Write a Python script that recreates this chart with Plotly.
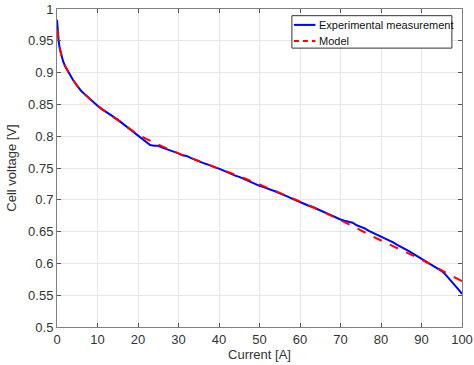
import plotly.graph_objects as go

meas_current = [0, 0.2, 0.4, 0.7, 1, 1.5, 2, 3, 4, 5, 6, 7, 8, 9, 10, 11, 12, 13, 14, 15, 16, 17, 18, 19,
                20, 21, 22, 23, 24, 25, 26, 27, 28, 29, 30, 31, 32, 33, 34, 35, 36, 37, 38, 39, 40, 41, 42,
                43, 44, 45, 46, 47, 48, 49, 50, 51, 52, 53, 54, 55, 56, 57, 58, 59, 60, 61, 62, 63, 64, 65,
                66, 67, 68, 69, 70, 71, 72, 73, 74, 75, 76, 77, 78, 79, 80, 81, 82, 83, 84, 85, 86, 87, 88,
                89, 90, 91, 92, 93, 94, 95, 96, 97, 98, 99, 100]
meas_voltage = [0.983, 0.965, 0.950, 0.937, 0.928, 0.918, 0.910, 0.898, 0.888, 0.879, 0.871, 0.865, 0.859,
                0.853, 0.848, 0.843, 0.839, 0.834, 0.830, 0.826, 0.821, 0.816, 0.811, 0.806, 0.800, 0.795,
                0.790, 0.786, 0.785, 0.785, 0.782, 0.780, 0.777, 0.775, 0.773, 0.770, 0.769, 0.766, 0.763,
                0.761, 0.758, 0.756, 0.753, 0.751, 0.749, 0.746, 0.744, 0.741, 0.738, 0.736, 0.733, 0.730,
                0.728, 0.725, 0.722, 0.720, 0.718, 0.716, 0.713, 0.710, 0.708, 0.705, 0.702, 0.699, 0.696,
                0.694, 0.691, 0.689, 0.686, 0.683, 0.680, 0.677, 0.675, 0.672, 0.669, 0.667, 0.665, 0.664,
                0.660, 0.658, 0.655, 0.651, 0.648, 0.646, 0.643, 0.639, 0.636, 0.633, 0.629, 0.626, 0.622,
                0.619, 0.615, 0.611, 0.607, 0.603, 0.599, 0.596, 0.592, 0.588, 0.582, 0.575, 0.568, 0.560,
                0.552]

model_current = [0.1, 0.3, 0.6, 1, 2, 3, 5, 7, 10, 15, 20, 25, 30, 35, 40, 45, 50, 55, 60, 65, 70, 75, 80,
                 85, 90, 95, 100]
model_voltage = [0.968, 0.955, 0.942, 0.930, 0.911, 0.899, 0.879, 0.865, 0.848, 0.825, 0.803, 0.787, 0.773,
                 0.761, 0.749, 0.737, 0.724, 0.711, 0.697, 0.683, 0.668, 0.652, 0.636, 0.621, 0.606, 0.589,
                 0.572]

series_names = ["Experimental measurement", "Model"]
series_colors = ["#0000ff", "#ff0000"]
series_dash = ["solid", "dash"]

x_ticks = [0, 10, 20, 30, 40, 50, 60, 70, 80, 90, 100]
y_ticks = [0.5, 0.55, 0.6, 0.65, 0.7, 0.75, 0.8, 0.85, 0.9, 0.95, 1]
y_labels = ["0.5", "0.55", "0.6", "0.65", "0.7", "0.75", "0.8", "0.85", "0.9", "0.95", "1"]

fig = go.Figure()
fig.add_trace(go.Scatter(x=meas_current, y=meas_voltage, mode="lines", name=series_names[0],
                         showlegend=False,
                         line=dict(color=series_colors[0], width=2)))
fig.add_trace(go.Scatter(x=model_current, y=model_voltage, mode="lines", name=series_names[1],
                         showlegend=False,
                         line=dict(color=series_colors[1], width=2, dash="dash", shape="spline")))

# compact MATLAB-style legend box (positions in plot-area fractions)
fig.add_shape(type="rect", xref="paper", yref="paper", x0=0.580, x1=0.975, y0=0.877, y1=0.979,
              line=dict(color="#333333", width=1), fillcolor="white", layer="above")
row_y = [0.950, 0.899]
for name, color, dash, yy in zip(series_names, series_colors, series_dash, row_y):
    fig.add_shape(type="line", xref="paper", yref="paper", x0=0.585, x1=0.638, y0=yy, y1=yy,
                  line=dict(color=color, width=2, dash="solid" if dash == "solid" else "5px,4px"),
                  layer="above")
    fig.add_annotation(xref="paper", yref="paper", x=0.643, y=yy, text=name, showarrow=False,
                       xanchor="left", yanchor="middle", font=dict(size=11, color="#111111"))

axis_common = dict(showgrid=True, gridcolor="#e6e6e6", gridwidth=1, showline=True, linecolor="#808080",
                   linewidth=1, mirror="ticks", ticks="inside", ticklen=4, tickcolor="#555555",
                   zeroline=False, automargin=False, tickfont=dict(size=13, color="#333333"))

fig.update_layout(
    width=474, height=365,
    margin=dict(l=57, r=12, t=9, b=38),
    paper_bgcolor="white", plot_bgcolor="white",
    font=dict(family="Liberation Sans, Arial, sans-serif", size=12, color="#333333"),
    xaxis=dict(range=[0, 100], tickvals=x_ticks,
               title=dict(text="Current [A]", font=dict(size=13), standoff=4), **axis_common),
    yaxis=dict(range=[0.5, 1], tickvals=y_ticks, ticktext=y_labels,
               title=dict(text="Cell voltage [V]", font=dict(size=13), standoff=8), **axis_common),
    showlegend=False,
)

fig.write_html("out.html", config={"displayModeBar": False},
               post_script="document.body.style.margin='0';")
